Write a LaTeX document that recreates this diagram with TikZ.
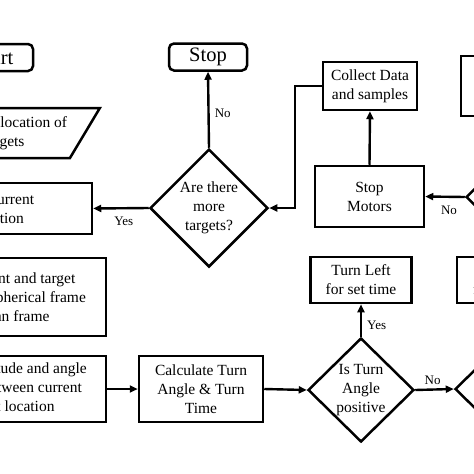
\documentclass[tikz,border=0pt]{standalone}
\usepackage{fontspec}
\setmainfont{Liberation Serif}
\usepackage{tikz}
\usetikzlibrary{arrows.meta, positioning, shapes.geometric}
\newcommand{\boxfont}{\fontsize{15.5}{19}\selectfont}
\newcommand{\termfont}{\fontsize{20.5}{24}\selectfont}
\newcommand{\answerfont}{\fontsize{13}{15}\selectfont}
\tikzset{
  terminal/.style={draw, rounded corners=5pt, line width=2.5pt,
                   minimum width=78pt, minimum height=27pt, inner sep=0pt,
                   font=\termfont},
  process/.style={draw, line width=2.5pt, align=center, inner sep=0pt,
                  font=\boxfont},
  inputbox/.style={trapezium, trapezium left angle=49.3,
                   trapezium right angle=130.7, trapezium stretches=true,
                   draw, line width=2.5pt, align=center, inner sep=0pt,
                   font=\boxfont},
  decision/.style={diamond, draw, line width=2.5pt, align=center,
                   inner sep=0pt, font=\boxfont},
  arrow/.style={-{Triangle[length=8pt,width=7pt]}, line width=2.4pt},
  answer/.style={font=\answerfont, inner sep=1pt},
}
\begin{document}
\begin{tikzpicture}[x=1pt, y=-1pt]
  \useasboundingbox (0,0) rectangle (474,474);
  \clip (0,0) rectangle (474,474);
  \fill[white] (0,0) rectangle (474,474);

  % Terminals
  \node[terminal] (start) at (-6,57.5) {Start};
  \node[terminal] (stop) at (208,57) {Stop};

  % Left column
  \node[inputbox, minimum width=192pt, minimum height=50pt] (input)
    at (4,133) {Input the location of\\targets};
  \node[process, minimum width=186pt, minimum height=51pt] (getloc)
    at (-1,208.5) {Get current\\location};
  \node[process, minimum width=224pt, minimum height=78pt] (convert)
    at (-6,297) {Convert current and target\\location from spherical frame\\to cartesian frame};
  \node[process, minimum width=230pt, minimum height=66pt] (magnitude)
    at (-9,389) {Calculate magnitude and angle\\of the vector between current\\\hspace*{12pt}and target location};

  % Turn
  \node[process, minimum width=124pt, minimum height=66pt] (calcturn)
    at (201,389) {Calculate Turn\\Angle \& Turn\\Time};
  \node[decision, minimum width=106pt, minimum height=104pt] (ispos)
    at (361,390) {Is Turn\\Angle\\positive};
  \node[process, minimum width=101pt, minimum height=46pt] (turnleft)
    at (361,280) {Turn Left\\for set time};
  \node[process, minimum width=103pt, minimum height=46pt] (turnright)
    at (508.5,280) {Turn Right\\for set time};
  \node[decision, minimum width=106pt, minimum height=104pt] (isneg)
    at (508,389) {};

  % Target reached
  \node[decision, minimum width=118pt, minimum height=118pt] (more)
    at (209,208) {Are there\\more\\targets?};
  \node[process, minimum width=109pt, minimum height=61pt] (stopmotors)
    at (369.5,196.5) {Stop\\Motors};
  \node[process, minimum width=94pt, minimum height=48pt] (collect)
    at (370,86) {Collect Data\\and samples};
  \node[process, minimum width=100pt, minimum height=60pt] (check)
    at (511,86) {};
  \node[decision, minimum width=106pt, minimum height=104pt] (reached)
    at (519,197) {};

  % Connectors
  \draw[arrow] (more.north) -- node[answer, right=4pt, pos=0.45] {No} (stop.south);
  \draw[arrow] (more.west) -- node[answer, below=7pt, pos=0.45] {Yes} (getloc.east);
  \draw[arrow] (collect.west) -- ++(-27,0) |- (more.east);
  \draw[arrow] (stopmotors.north) -- (collect.south);
  \draw[arrow] (reached.west) -- node[answer, below=7pt, pos=0.4] {No} (stopmotors.east);
  \draw[arrow] (magnitude.east) -- (calcturn.west);
  \draw[arrow] (calcturn.east) -- (ispos.west);
  \draw[arrow] (ispos.north) -- node[answer, right=4pt, pos=0.35] {Yes} (turnleft.south);
  \draw[arrow] (ispos.east) -- node[answer, above=3pt, pos=0.45] {No} (isneg.west);

\end{tikzpicture}
\end{document}
